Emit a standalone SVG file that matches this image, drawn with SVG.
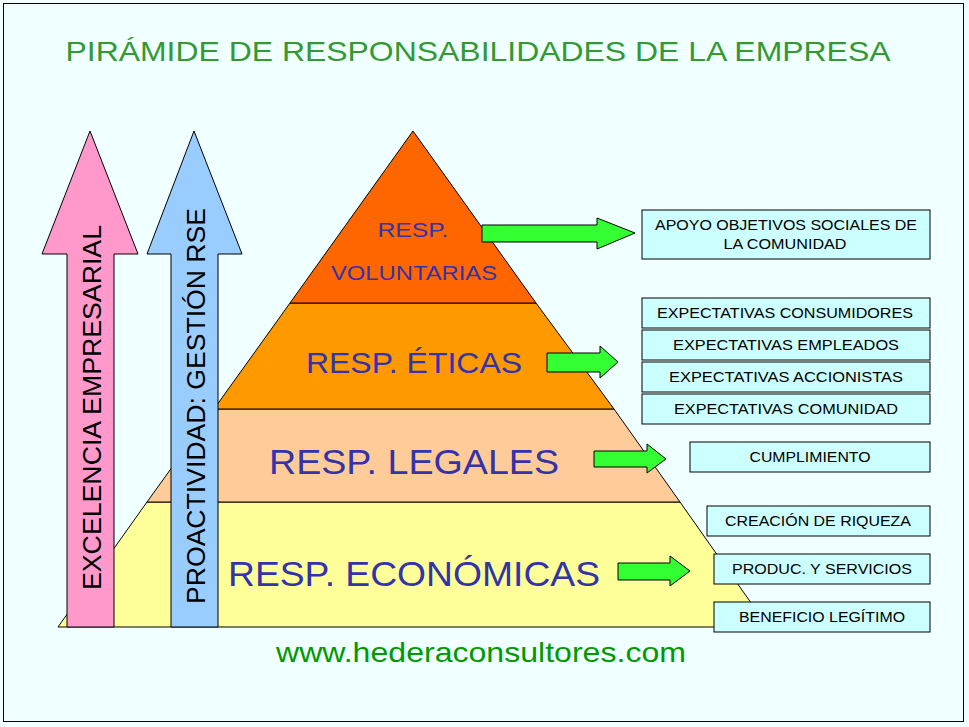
<svg xmlns="http://www.w3.org/2000/svg" width="969" height="727" viewBox="0 0 969 727">
<style>
text{font-family:"Liberation Sans",Arial,sans-serif}
.ln{stroke:#000;stroke-width:1}
.box{fill:#ccffff;stroke:#000;stroke-width:1}
.bt{font-size:15px;fill:#000;text-anchor:middle}
.pt{fill:#3333aa;text-anchor:middle}
.ga{fill:#33ff33;stroke:#000;stroke-width:1}
</style>
<rect x="0" y="0" width="969" height="727" fill="#f0ffff"/>
<rect x="3.5" y="3.5" width="960" height="718" fill="none" stroke="#000" stroke-width="1"/>
<text x="478" y="61" font-size="28" fill="#339933" text-anchor="middle" textLength="825" lengthAdjust="spacingAndGlyphs">PIRÁMIDE DE RESPONSABILIDADES DE LA EMPRESA</text>
<g id="pyramid">
<polygon points="58,627 147,502 680,502 768,627" fill="#ffff99" class="ln"/>
<polygon points="147,502 214,409 614,409 680,502" fill="#ffcc99" class="ln"/>
<polygon points="214,409 290,303 536,303 614,409" fill="#ff9900" class="ln"/>
<polygon points="290,303 413,131 536,303" fill="#ff6600" class="ln"/>
<text x="413" y="237" font-size="20" class="pt" textLength="71" lengthAdjust="spacingAndGlyphs">RESP.</text>
<text x="414" y="280" font-size="20" class="pt" textLength="166" lengthAdjust="spacingAndGlyphs">VOLUNTARIAS</text>
<text x="414" y="373" font-size="30" class="pt" textLength="216" lengthAdjust="spacingAndGlyphs">RESP. ÉTICAS</text>
<text x="414" y="474" font-size="35" class="pt" textLength="290" lengthAdjust="spacingAndGlyphs">RESP. LEGALES</text>
<text x="414" y="586" font-size="35" class="pt" textLength="372" lengthAdjust="spacingAndGlyphs">RESP. ECONÓMICAS</text>
</g>
<g id="arrow-excelencia">
<polygon points="90,131 138,254 114,254 114,627 67,627 67,254 42,254" fill="#ff99cc" class="ln"/>
<text transform="translate(101,590) rotate(-90)" font-size="25" fill="#000" textLength="365" lengthAdjust="spacingAndGlyphs">EXCELENCIA EMPRESARIAL</text>
</g>
<g id="arrow-proactividad">
<polygon points="194,131 242,254 218,254 218,627 171,627 171,254 147,254" fill="#99ccff" class="ln"/>
<text transform="translate(205,604) rotate(-90)" font-size="25" fill="#000" textLength="396" lengthAdjust="spacingAndGlyphs">PROACTIVIDAD: GESTIÓN RSE</text>
</g>
<g id="connectors">
<polygon points="482,225 597,225 597,218 635,233 597,249 597,242 482,242" class="ga"/>
<polygon points="547,353 600,353 600,346 618,362 600,378 600,372 547,372" class="ga"/>
<polygon points="594,451 647,451 647,444 666,459 647,473 647,467 594,467" class="ga"/>
<polygon points="618,563 670,563 670,556 690,571 670,586 670,580 618,580" class="ga"/>
</g>
<g id="box-apoyo"><rect x="642" y="210" width="288" height="49" class="box"/>
<text x="786" y="230" class="bt" textLength="262" lengthAdjust="spacingAndGlyphs">APOYO OBJETIVOS SOCIALES DE</text><text x="785" y="249" class="bt" textLength="123" lengthAdjust="spacingAndGlyphs">LA COMUNIDAD</text></g>
<g id="box-consumidores"><rect x="642" y="298" width="288" height="30" class="box"/><text x="785" y="318" class="bt" textLength="256" lengthAdjust="spacingAndGlyphs">EXPECTATIVAS CONSUMIDORES</text></g>
<g id="box-empleados"><rect x="642" y="330" width="288" height="30" class="box"/><text x="786" y="350" class="bt" textLength="226" lengthAdjust="spacingAndGlyphs">EXPECTATIVAS EMPLEADOS</text></g>
<g id="box-accionistas"><rect x="642" y="362" width="288" height="30" class="box"/><text x="786" y="382" class="bt" textLength="234" lengthAdjust="spacingAndGlyphs">EXPECTATIVAS ACCIONISTAS</text></g>
<g id="box-comunidad"><rect x="642" y="394" width="288" height="30" class="box"/><text x="786" y="414" class="bt" textLength="224" lengthAdjust="spacingAndGlyphs">EXPECTATIVAS COMUNIDAD</text></g>
<g id="box-cumplimiento"><rect x="690" y="442" width="240" height="30" class="box"/><text x="810" y="462" class="bt" textLength="121" lengthAdjust="spacingAndGlyphs">CUMPLIMIENTO</text></g>
<g id="box-riqueza"><rect x="707" y="506" width="223" height="30" class="box"/><text x="818" y="526" class="bt" textLength="186" lengthAdjust="spacingAndGlyphs">CREACIÓN DE RIQUEZA</text></g>
<g id="box-produc"><rect x="714" y="554" width="216" height="30" class="box"/><text x="822" y="574" class="bt" textLength="180" lengthAdjust="spacingAndGlyphs">PRODUC. Y SERVICIOS</text></g>
<g id="box-beneficio"><rect x="714" y="602" width="216" height="30" class="box"/><text x="822" y="622" class="bt" textLength="166" lengthAdjust="spacingAndGlyphs">BENEFICIO LEGÍTIMO</text></g>
<text x="481" y="662" font-size="28" fill="#009900" text-anchor="middle" textLength="410" lengthAdjust="spacingAndGlyphs">www.hederaconsultores.com</text>
</svg>
